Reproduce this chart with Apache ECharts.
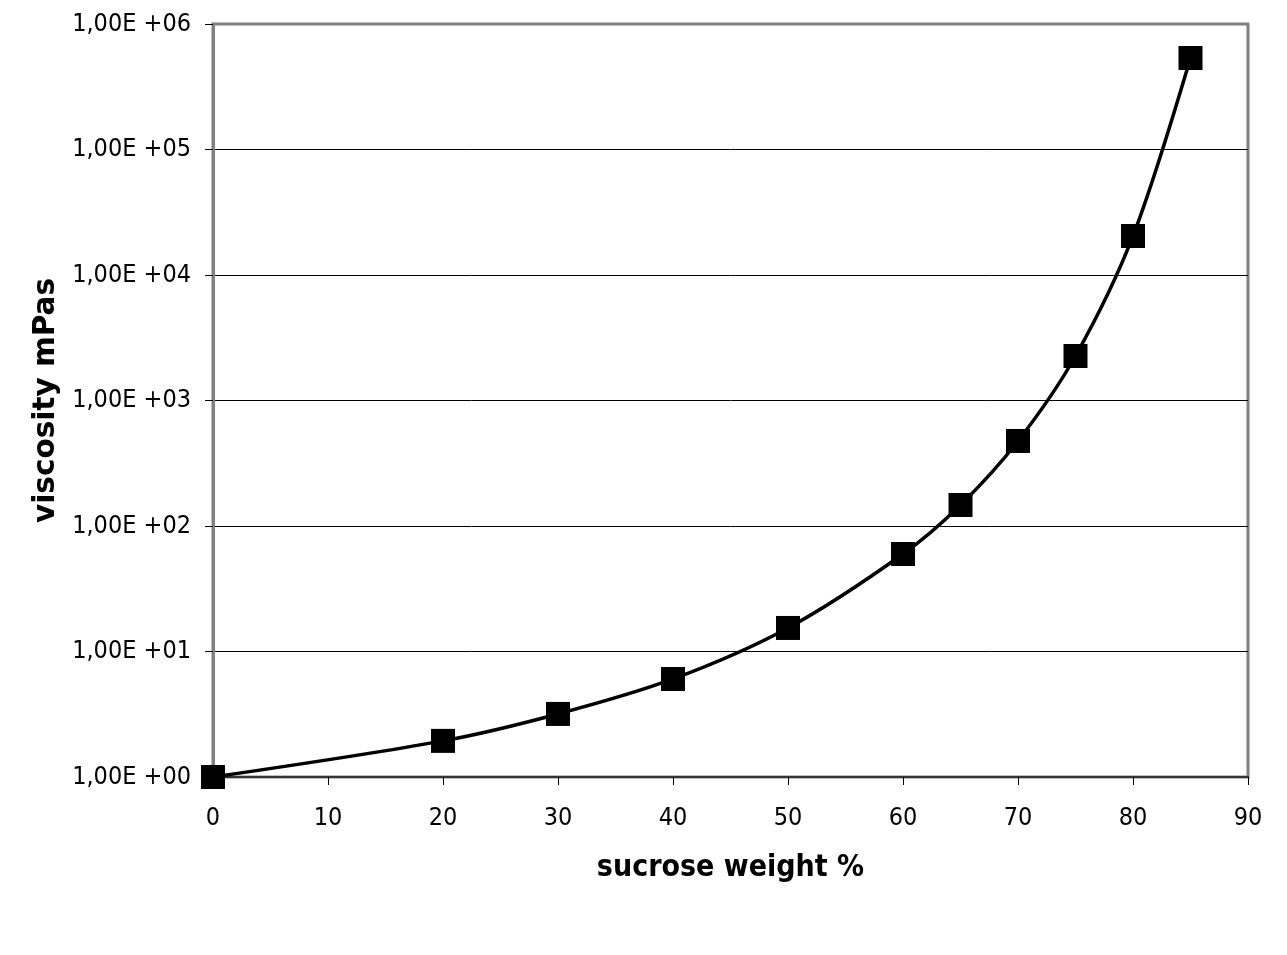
<!DOCTYPE html>
<html>
<head>
<meta charset="utf-8">
<script src="https://cdn.jsdelivr.net/npm/echarts@6/dist/echarts.min.js"></script>
<style>
html,body{margin:0;padding:0;background:#fff;}
#chart{width:1287px;height:955px;}
</style>
</head>
<body>
<div id="chart"></div>
<script>
var sucroseWeight = [0, 20, 30, 40, 50, 60, 65, 70, 75, 80, 85];
var viscosity = [1.0, 1.94, 3.18, 6.04, 15.4, 59.8, 147, 476, 2263, 20460, 536000];
var xTicks = [0, 10, 20, 30, 40, 50, 60, 70, 80, 90];
var yTicks = [1, 10, 100, 1000, 10000, 100000, 1000000];

var points = sucroseWeight.map(function (x, i) { return [x, viscosity[i]]; });

var chart = echarts.init(document.getElementById('chart'));
chart.setOption({
  animation: false,
  backgroundColor: '#ffffff',
  grid: {
    left: 213, right: 39, top: 24, bottom: 178,
    show: true, borderColor: '#808080', borderWidth: 3, backgroundColor: 'transparent'
  },
  xAxis: {
    type: 'value', min: xTicks[0], max: xTicks[xTicks.length - 1], interval: 10,
    name: 'sucrose weight %', nameLocation: 'middle', nameGap: 76,
    nameTextStyle: { fontFamily: 'DejaVu Sans Condensed', fontWeight: 'bold', fontSize: 30, color: '#000' },
    axisLine: { show: true, onZero: false, lineStyle: { color: '#333', width: 2 } },
    axisTick: { show: true, length: 8, inside: false, lineStyle: { color: '#000', width: 1 } },
    axisLabel: { fontFamily: 'DejaVu Sans Condensed', fontSize: 25, color: '#000', margin: 29 },
    splitLine: { show: false }
  },
  yAxis: {
    type: 'log', logBase: 10, min: yTicks[0], max: yTicks[yTicks.length - 1],
    name: 'viscosity mPas', nameLocation: 'middle', nameGap: 152, nameRotate: 90,
    nameTextStyle: { fontFamily: 'DejaVu Sans', fontWeight: 'bold', fontSize: 29.5, color: '#000' },
    axisLine: { show: true, lineStyle: { color: '#808080', width: 3 } },
    axisTick: { show: true, length: 8, inside: false, lineStyle: { color: '#000', width: 1 } },
    axisLabel: {
      fontFamily: 'DejaVu Sans Condensed', fontSize: 25, color: '#000', margin: 22,
      formatter: function (v) {
        var e = Math.round(Math.log10(v));
        return '1,00E +' + (e < 10 ? '0' : '') + e;
      }
    },
    splitLine: { show: true, showMaxLine: false, showMinLine: false, lineStyle: { color: '#000', width: 1 } }
  },
  series: [{
    type: 'line',
    data: points,
    smooth: 0.3,
    symbol: 'rect',
    symbolSize: 24,
    itemStyle: { color: '#000', borderRadius: 2 },
    lineStyle: { color: '#000', width: 3.5 },
    z: 5
  }]
});
</script>
</body>
</html>
